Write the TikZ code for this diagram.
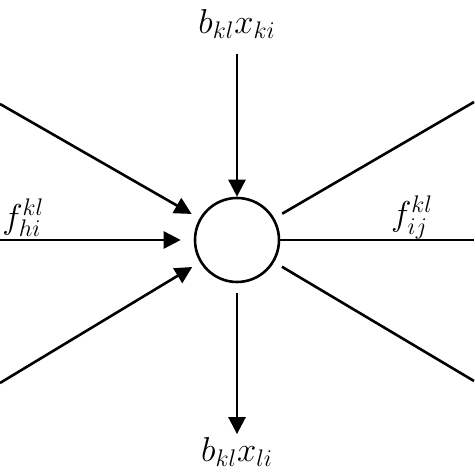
\documentclass[tikz,border=0pt]{standalone}
\usetikzlibrary{arrows.meta, positioning}
\begin{document}
\begin{tikzpicture}[>={Triangle[length=8.5pt,width=8.5pt]}, x=.5pt, y=.5pt, line width=1.3pt, font=\fontsize{18}{21}\selectfont, lbl/.style={inner sep=1pt}]
\useasboundingbox (0,0) rectangle (474,474);
\node[draw, circle, minimum size=42pt, inner sep=0pt] (node) at (237,234) {};
%
\node[lbl] (in top) at (237,450) {$b_{kl}x_{ki}$};
\node[lbl] (out bottom) at (237,22) {$b_{kl}x_{li}$};
\draw[->, shorten <=6pt] (in top) -- (node);
\draw[->, shorten <=5pt] (node) -- (out bottom);
%
\coordinate (in upper) at (0,370);
\coordinate (in mid) at (0,234);
\coordinate (in lower) at (0,91);
\draw[->, shorten >=4.5pt] (in upper) -- (node);
\draw[->, shorten >=6.5pt] (in mid) -- node[pos=.12, above, lbl] {$f_{hi}^{kl}$} (node);
\draw[->, shorten >=4.5pt] (in lower) -- (node);
%
\coordinate (out upper) at (474,372);
\coordinate (out mid) at (474,234);
\coordinate (out lower) at (474,93);
\draw[shorten <=4.5pt] (node) -- (out upper);
\draw (node) -- node[pos=.68, above, inner sep=0pt] {$f_{ij}^{kl}$} (out mid);
\draw[shorten <=4.5pt] (node) -- (out lower);
\end{tikzpicture}
\end{document}
